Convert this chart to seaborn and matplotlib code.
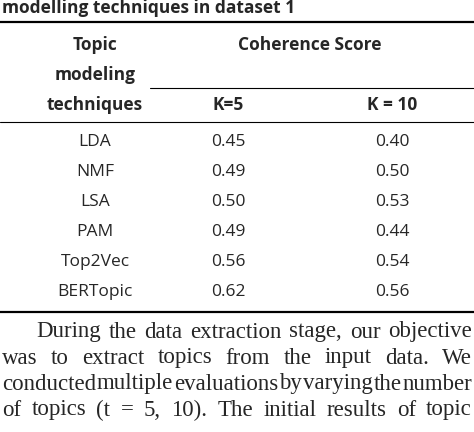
import matplotlib
matplotlib.use("Agg")
import matplotlib.pyplot as plt
import seaborn as sns

sns.set_theme(style="white")
plt.rcParams["font.family"] = ["Open Sans", "DejaVu Sans"]

techniques = ["LDA", "NMF", "LSA", "PAM", "Top2Vec", "BERTopic"]
k5 = [0.45, 0.49, 0.50, 0.49, 0.56, 0.62]
k10 = [0.40, 0.50, 0.53, 0.44, 0.54, 0.56]
para = [
    "During the data extraction stage, our objective",
    "was to extract topics from the input data. We",
    "conducted multiple evaluations by varying the number",
    "of topics (t = 5, 10). The initial results of topic",
]

W, H = 474, 432
FS = 12.5
fig = plt.figure(figsize=(W / 100, H / 100), dpi=100)
ax = fig.add_axes([0, 0, 1, 1])
ax.set_xlim(0, W)
ax.set_ylim(H, 0)
ax.axis("off")

ax.text(2, 8, "modelling techniques in dataset 1", fontsize=12.5, fontweight="bold",
        va="center", ha="left")
ax.plot([0, W], [22, 22], color="black", lw=1.6)
ax.plot([150, W], [88, 88], color="black", lw=0.8)
ax.plot([0, W], [122, 122], color="black", lw=0.8)
ax.plot([0, W], [312, 312], color="black", lw=1.6)

for y, s in zip([45, 75, 105], ["Topic", "modeling", "techniques"]):
    ax.text(95, y, s, fontsize=FS, fontweight="bold", ha="center", va="center")
ax.text(310, 45, "Coherence Score", fontsize=FS, fontweight="bold", ha="center", va="center")
ax.text(228, 105, "K=5", fontsize=FS, fontweight="bold", ha="center", va="center")
ax.text(392, 105, "K = 10", fontsize=FS, fontweight="bold", ha="center", va="center")

for i, (t, a, b) in enumerate(zip(techniques, k5, k10)):
    y = 142 + 30 * i
    ax.text(95, y, t, fontsize=FS, ha="center", va="center")
    ax.text(228, y, f"{a:.2f}", fontsize=FS, ha="center", va="center")
    ax.text(392, y, f"{b:.2f}", fontsize=FS, ha="center", va="center")

# justified paragraph
fig.canvas.draw()
r = fig.canvas.get_renderer()
for i, line in enumerate(para):
    y = 332 + 26 * i
    x0 = 36 if i == 0 else 2
    x1 = W - 2
    words = line.split()
    texts = [ax.text(0, y, w, fontsize=16.5, family="Liberation Serif", va="center") for w in words]
    widths = [t.get_window_extent(r).width for t in texts]
    gap = (x1 - x0 - sum(widths)) / max(len(words) - 1, 1)
    x = x0
    for t, w in zip(texts, widths):
        t.set_x(x)
        x += w + gap

fig.savefig("out.png", dpi=100)
